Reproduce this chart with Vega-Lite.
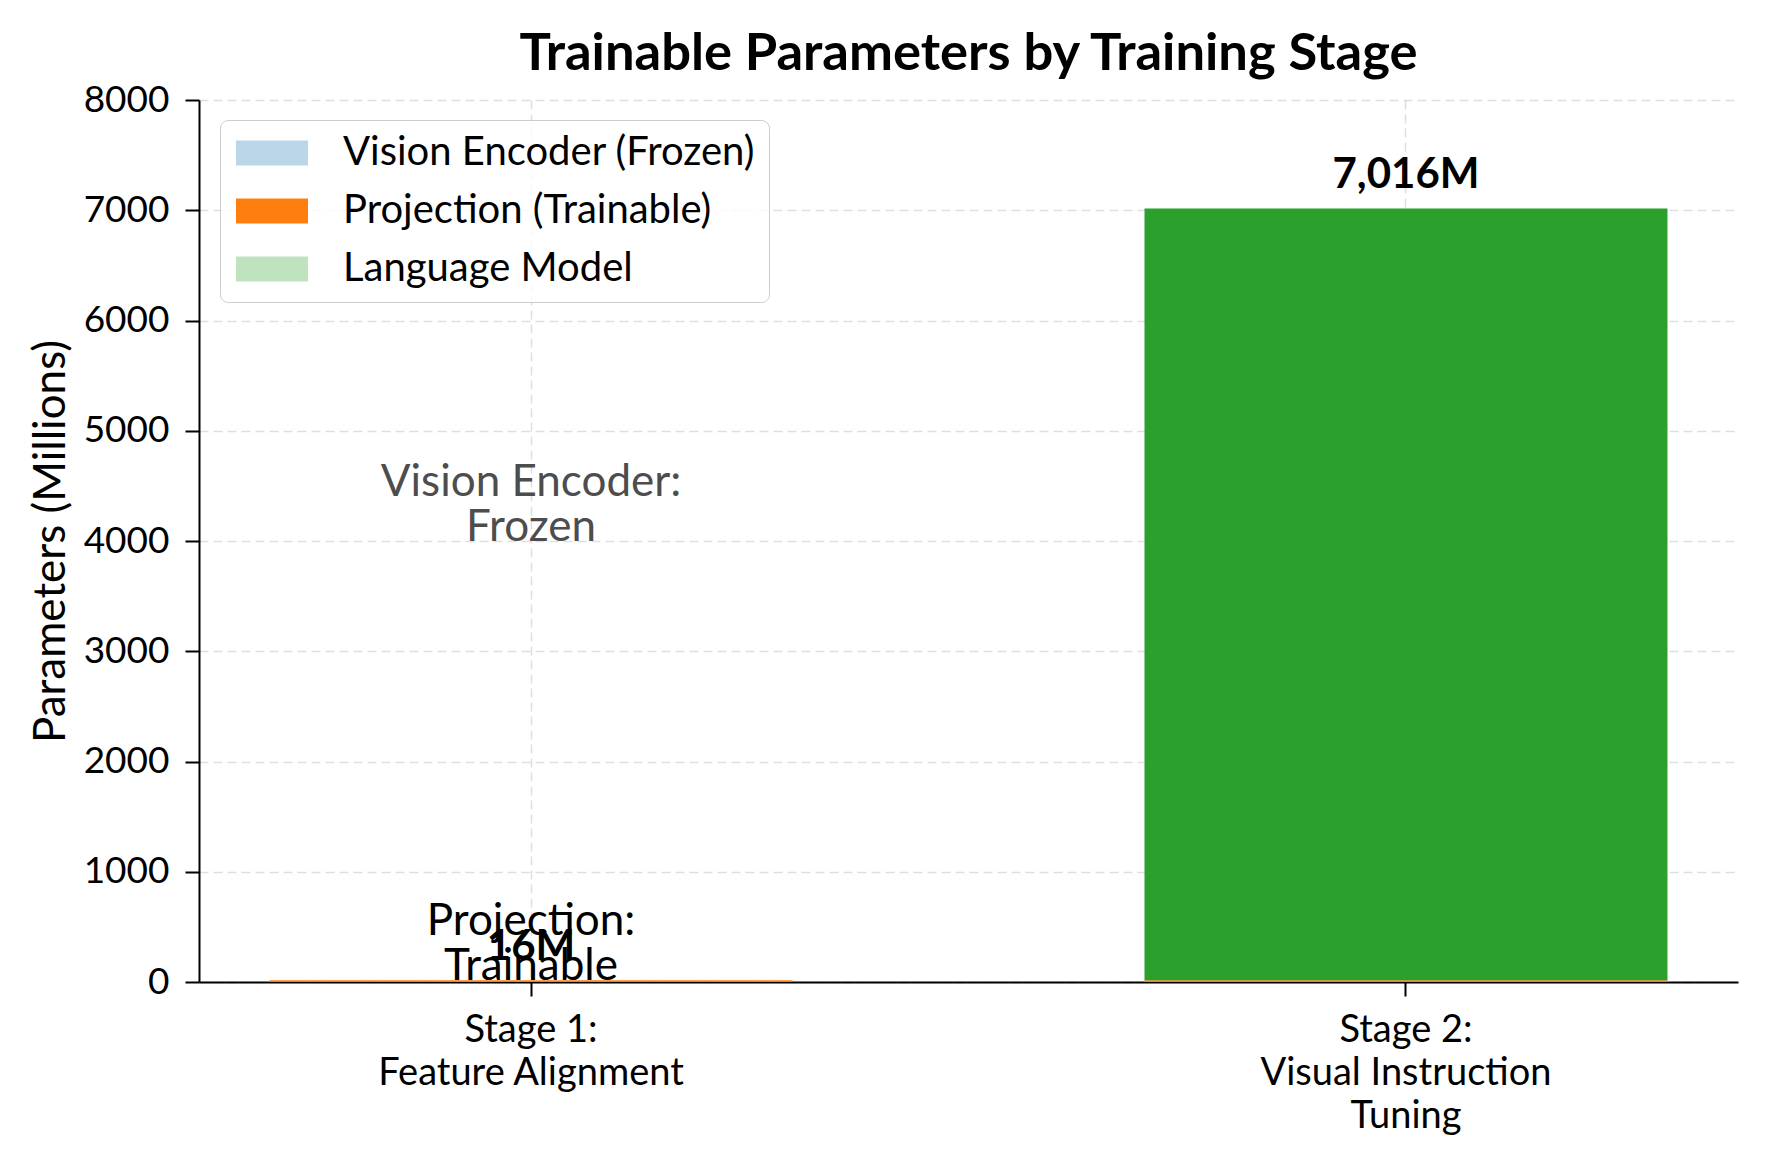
{
  "$schema": "https://vega.github.io/schema/vega-lite/v6.json",
  "width": 1770,
  "height": 1170,
  "autosize": {"type": "fit", "contains": "padding"},
  "padding": {"left": 29, "top": 27, "right": 32, "bottom": 35},
  "background": "white",
  "config": {
    "font": "Lato",
    "view": {"stroke": null},
    "axis": {
      "domainColor": "black",
      "domainWidth": 2,
      "tickColor": "black",
      "tickWidth": 2,
      "tickSize": 14,
      "labelFontSize": 37,
      "labelColor": "black",
      "labelLimit": 0,
      "grid": true,
      "gridDash": [9, 5],
      "gridColor": "#b0b0b0",
      "gridOpacity": 0.4,
      "gridWidth": 1.5,
      "zindex": 1
    }
  },
  "title": {
    "text": "Trainable Parameters by Training Stage",
    "fontSize": 52.5,
    "fontWeight": "bold",
    "anchor": "middle",
    "offset": 0,
    "color": "black"
  },
  "encoding": {
    "x": {
      "field": "stage",
      "type": "nominal",
      "sort": null,
      "scale": {
        "domain": ["Stage 1:|Feature Alignment", "Stage 2:|Visual Instruction|Tuning"],
        "paddingInner": 0.4023,
        "paddingOuter": 0.0806
      },
      "axis": {
        "title": null,
        "labelAngle": 0,
        "labelFontSize": 38,
        "labelExpr": "split(datum.label, '|')",
        "labelPadding": 15,
        "labelLineHeight": 43,
        "labelBaseline": "top",
        "bandPosition": 0.5
      }
    }
  },
  "layer": [
    {
      "data": {
        "values": [
          {"stage": "Stage 1:|Feature Alignment", "component": "Vision Encoder (Frozen)", "params": 0},
          {"stage": "Stage 1:|Feature Alignment", "component": "Projection (Trainable)", "params": 16},
          {"stage": "Stage 1:|Feature Alignment", "component": "Language Model", "params": 0},
          {"stage": "Stage 2:|Visual Instruction|Tuning", "component": "Vision Encoder (Frozen)", "params": 0},
          {"stage": "Stage 2:|Visual Instruction|Tuning", "component": "Projection (Trainable)", "params": 16},
          {"stage": "Stage 2:|Visual Instruction|Tuning", "component": "Language Model", "params": 7000}
        ]
      },
      "mark": {"type": "bar"},
      "encoding": {
        "y": {
          "field": "params",
          "type": "quantitative",
          "stack": "zero",
          "title": "Parameters (Millions)",
          "scale": {"domain": [0, 8000], "nice": false},
          "axis": {
            "values": [0, 1000, 2000, 3000, 4000, 5000, 6000, 7000, 8000],
            "format": "d",
            "labelPadding": 16,
            "titleFontSize": 44,
            "titleFontWeight": "normal",
            "titleColor": "black",
            "titlePadding": 10
          }
        },
        "order": {"field": "component", "sort": "descending"},
        "color": {
          "field": "component",
          "type": "nominal",
          "scale": {
            "domain": ["Vision Encoder (Frozen)", "Projection (Trainable)", "Language Model"],
            "range": ["#1f77b4", "#ff7f0e", "#2ca02c"]
          },
          "legend": {
            "title": null,
            "orient": "none",
            "legendX": 21,
            "legendY": 20,
            "symbolType": "M-2,-0.7L2,-0.7L2,0.7L-2,0.7Z",
            "symbolSize": 1296,
            "symbolStrokeWidth": 0,
            "symbolOffset": 19,
            "labelFontSize": 40,
            "labelLimit": 0,
            "labelColor": "black",
            "labelOffset": 51,
            "rowPadding": 18,
            "padding": 13,
            "strokeColor": "#cccccc",
            "fillColor": "rgba(255,255,255,0.8)",
            "cornerRadius": 8,
            "encode": {
              "symbols": {
                "update": {
                  "opacity": {"signal": "datum.value === 'Projection (Trainable)' ? 1 : 0.3"}
                }
              }
            }
          }
        }
      }
    },
    {
      "data": {
        "values": [
          {"stage": "Stage 1:|Feature Alignment", "y": 4530, "note": "Vision Encoder:\nFrozen"}
        ]
      },
      "mark": {"type": "text", "fontSize": 44, "color": "#4d4d4d", "lineBreak": "\n", "lineHeight": 45, "baseline": "middle", "align": "center"},
      "encoding": {
        "y": {"field": "y", "type": "quantitative", "title": "Parameters (Millions)"},
        "text": {"field": "note"}
      }
    },
    {
      "data": {
        "values": [
          {"stage": "Stage 1:|Feature Alignment", "y": 540, "note": "Projection:\nTrainable"}
        ]
      },
      "mark": {"type": "text", "fontSize": 44, "color": "black", "lineBreak": "\n", "lineHeight": 45, "baseline": "middle", "align": "center"},
      "encoding": {
        "y": {"field": "y", "type": "quantitative", "title": "Parameters (Millions)"},
        "text": {"field": "note"}
      }
    },
    {
      "data": {
        "values": [
          {"stage": "Stage 1:|Feature Alignment", "total": 16, "label": "16M"},
          {"stage": "Stage 2:|Visual Instruction|Tuning", "total": 7016, "label": "7,016M"}
        ]
      },
      "mark": {"type": "text", "fontSize": 42, "fontWeight": "bold", "color": "black", "baseline": "alphabetic", "align": "center", "dy": -20},
      "encoding": {
        "y": {"field": "total", "type": "quantitative", "title": "Parameters (Millions)"},
        "text": {"field": "label"}
      }
    }
  ]
}
